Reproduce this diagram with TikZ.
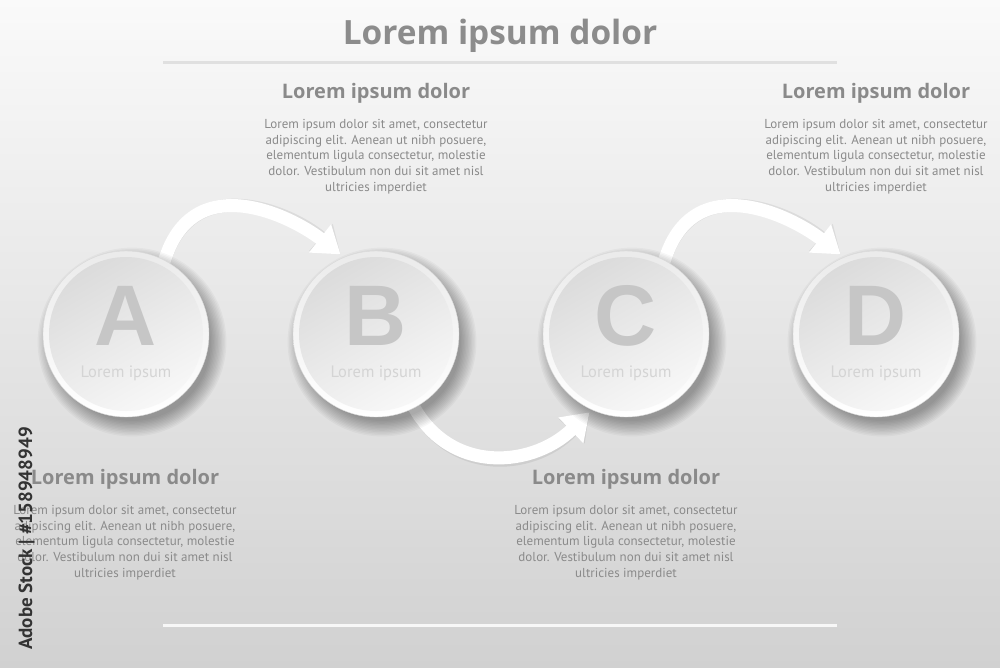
\documentclass[tikz,border=0pt]{standalone}
\usepackage{fontspec}
\setmainfont{PT Sans}
\newfontfamily\letterfont{Liberation Sans}
\newfontfamily\headfont{Open Sans}
\usetikzlibrary{arrows.meta,calc}
\definecolor{txtgray}{HTML}{8A8A8A}
\definecolor{titlegray}{HTML}{8C8C8C}
\definecolor{lettergray}{HTML}{C6C6C6}
\definecolor{innergray}{HTML}{D4D4D4}
\newcommand\bodytxt{Lorem ipsum dolor sit amet, consectetur\\adipiscing elit. Aenean ut nibh posuere,\\elementum ligula consectetur, molestie\\dolor. Vestibulum non dui sit amet nisl\\ultricies imperdiet}
\newcommand\drawdisc[2]{%
  \foreach \k in {0,...,11}{\fill[black,opacity=0.03] ($(#1)+(6,-8)$) circle ({79+\k*1.4});}
  \shade[top color=white!92!black, bottom color=white, draw=white!85!black, line width=0.4pt] (#1) circle (83);
  \shade[top color=white!86!black, bottom color=white!97!black, shading angle=30] (#1) circle (77);
  \node[letterstyle] (#1letter) at ($(#1)+(0,18)$) {#2};
  \node[innerlabel] (#1label) at ($(#1)+(0,-43)$) {Lorem ipsum};
}
\begin{document}
\begin{tikzpicture}[x=1pt,y=1pt,
  heading/.style={font=\headfont\bfseries\fontsize{20}{24}\selectfont, text=txtgray, inner sep=0, anchor=base},
  bodytext/.style={font=\fontsize{13}{15.75}\selectfont, text=txtgray, align=center, inner sep=0, anchor=north},
  disc/.style={circle, minimum size=166pt, inner sep=0, outer sep=0},
  letterstyle/.style={font=\letterfont\bfseries\fontsize{86}{86}\selectfont, text=lettergray, inner sep=0},
  innerlabel/.style={font=\fontsize{16.5}{18}\selectfont, text=innergray, anchor=base, inner sep=0},
  flowarrow/.style={line width=13pt, white, -{Triangle[length=26pt,width=34pt]}},
  arrowshadow/.style={line width=13pt, black, opacity=0.07, -{Triangle[length=26pt,width=34pt]}},
]
\useasboundingbox (0,-667) rectangle (1000,0);
\shade[top color=white!98!black, middle color=white!91!black, bottom color=white!82!black] (0,-667) rectangle (1000,0);
% rules
\draw[line width=3pt, white!88!black] (163,-62) -- (837,-62);
\draw[line width=3pt, white!97!black] (163,-625) -- (837,-625);
% title
\node[font=\headfont\bfseries\fontsize{33.4}{38}\selectfont, text=titlegray, anchor=base, inner sep=0] (title) at (500,-44) {Lorem ipsum dolor};
% text blocks
\node[heading] (h1) at (376,-98) {Lorem ipsum dolor};
\node[bodytext] (b1) at (376,-119) {\bodytxt};
\node[heading] (h2) at (876,-98) {Lorem ipsum dolor};
\node[bodytext] (b2) at (876,-119) {\bodytxt};
\node[heading] (h3) at (125,-484) {Lorem ipsum dolor};
\node[bodytext] (b3) at (125,-505) {\bodytxt};
\node[heading] (h4) at (626,-484) {Lorem ipsum dolor};
\node[bodytext] (b4) at (626,-505) {\bodytxt};
% circle anchors
\node[disc] (A) at (126,-334) {};
\node[disc] (B) at (376,-334) {};
\node[disc] (C) at (626,-334) {};
\node[disc] (D) at (876,-334) {};
% arrows
\draw[arrowshadow] ($(A.center)!0.85!(A.60)$) .. controls (185,-165) and (292,-212) .. ($(B.center)!1.05!(B.114)$);
\draw[flowarrow] ($(A.center)!0.85!(A.60)$) .. controls (185,-163) and (290,-215) .. ($(B.center)!1.05!(B.114)$);
\draw[arrowshadow] ($(C.center)!0.85!(C.60)$) .. controls (685,-165) and (792,-212) .. ($(D.center)!1.05!(D.114)$);
\draw[flowarrow] ($(C.center)!0.85!(C.60)$) .. controls (685,-163) and (790,-215) .. ($(D.center)!1.05!(D.114)$);
\draw[arrowshadow] ($(B.center)!0.8!(B.-62)$) .. controls (442,-478) and (532,-473) .. ($(C.center)!1.04!(C.-115)$);
\draw[flowarrow] ($(B.center)!0.8!(B.-62)$) .. controls (440,-475) and (530,-470) .. ($(C.center)!1.04!(C.-115)$);
% circles
\drawdisc{A}{A}
\drawdisc{B}{B}
\drawdisc{C}{C}
\drawdisc{D}{D}
% side label
\node[rotate=90, anchor=base west, font=\bfseries\fontsize{19}{22}\selectfont, text=black!80, inner sep=0] (stock) at (32,-650) {Adobe Stock | \#158948949};
\end{tikzpicture}
\end{document}
